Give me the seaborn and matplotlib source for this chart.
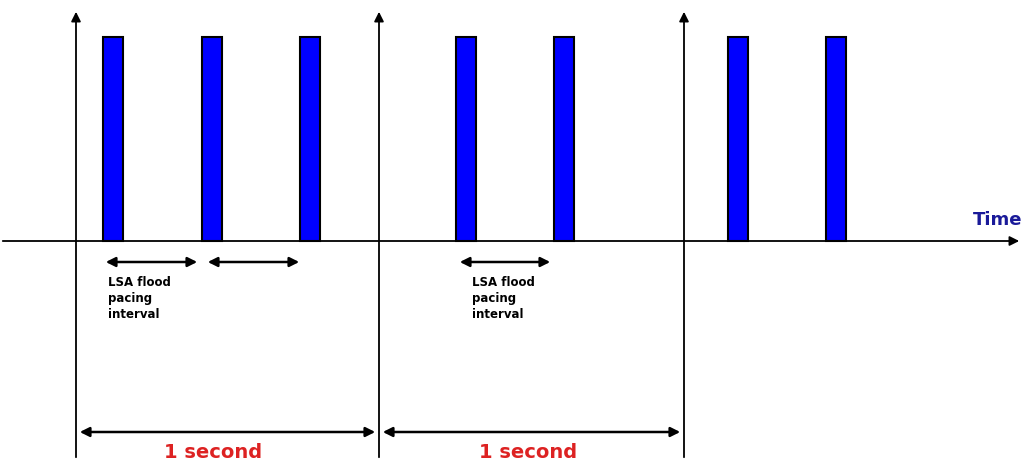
import seaborn as sns
import matplotlib.pyplot as plt
import pandas as pd

# pulse positions (time axis, in picture units) and pulse heights
pulse_times = [113, 212, 310, 466, 564, 738, 836]
pulse_heights = [204, 204, 204, 204, 204, 204, 204]
second_marks = [76, 379, 684]
second_label_x = [213, 528]
pacing_spans = [(103, 200), (205, 302), (457, 553)]
pacing_labels_x = [108, 472]
second_label = "1 second"


def main():
    sns.set_theme(style="white")
    plt.rcParams['font.family'] = ['DejaVu Sans']

    fig = plt.figure(figsize=(10.24, 4.73), dpi=100)
    ax = fig.add_axes([0, 0, 1, 1])

    df = pd.DataFrame({"t": pulse_times, "h": pulse_heights})
    sns.barplot(ax=ax, data=df, x="t", y="h", native_scale=True,
                width=20 / 98, color="#0000ff", saturation=1,
                edgecolor="black", linewidth=1.5)

    ax.set_xlim(0, 1024)
    ax.set_ylim(241 - 473, 241)
    ax.axis("off")

    arrow = dict(arrowstyle="-|>", color="black", lw=1.3, mutation_scale=14)
    dbl = dict(arrowstyle="<|-|>", color="black", lw=1.8, mutation_scale=14)

    # time axis
    ax.annotate("", xy=(1022, 0), xytext=(0, 0), arrowprops=arrow)
    ax.text(998, 21, "Time", color="#1a1a99", fontsize=13, fontweight="bold",
            ha="center", va="center")

    # vertical second markers
    for x in second_marks:
        ax.annotate("", xy=(x, 232), xytext=(x, 241 - 460), arrowprops=arrow)

    # pacing interval arrows
    for a, b in pacing_spans:
        ax.annotate("", xy=(a, -21), xytext=(b, -21), arrowprops=dbl)
    for x in pacing_labels_x:
        ax.text(x, -35, "LSA flood\npacing\ninterval", fontsize=8.5, fontweight="bold",
                color="black", ha="left", va="top", linespacing=1.3)

    # one second spans
    for a, b in zip(second_marks[:-1], second_marks[1:]):
        ax.annotate("", xy=(a + 1, -191), xytext=(b - 1, -191), arrowprops=dbl)
    for x in second_label_x:
        ax.text(x, -211, second_label, color="#dd2222", fontsize=14,
                fontweight="bold", ha="center", va="center")

    fig.savefig("out.png", dpi=100)


if __name__ == '__main__':
    main()
